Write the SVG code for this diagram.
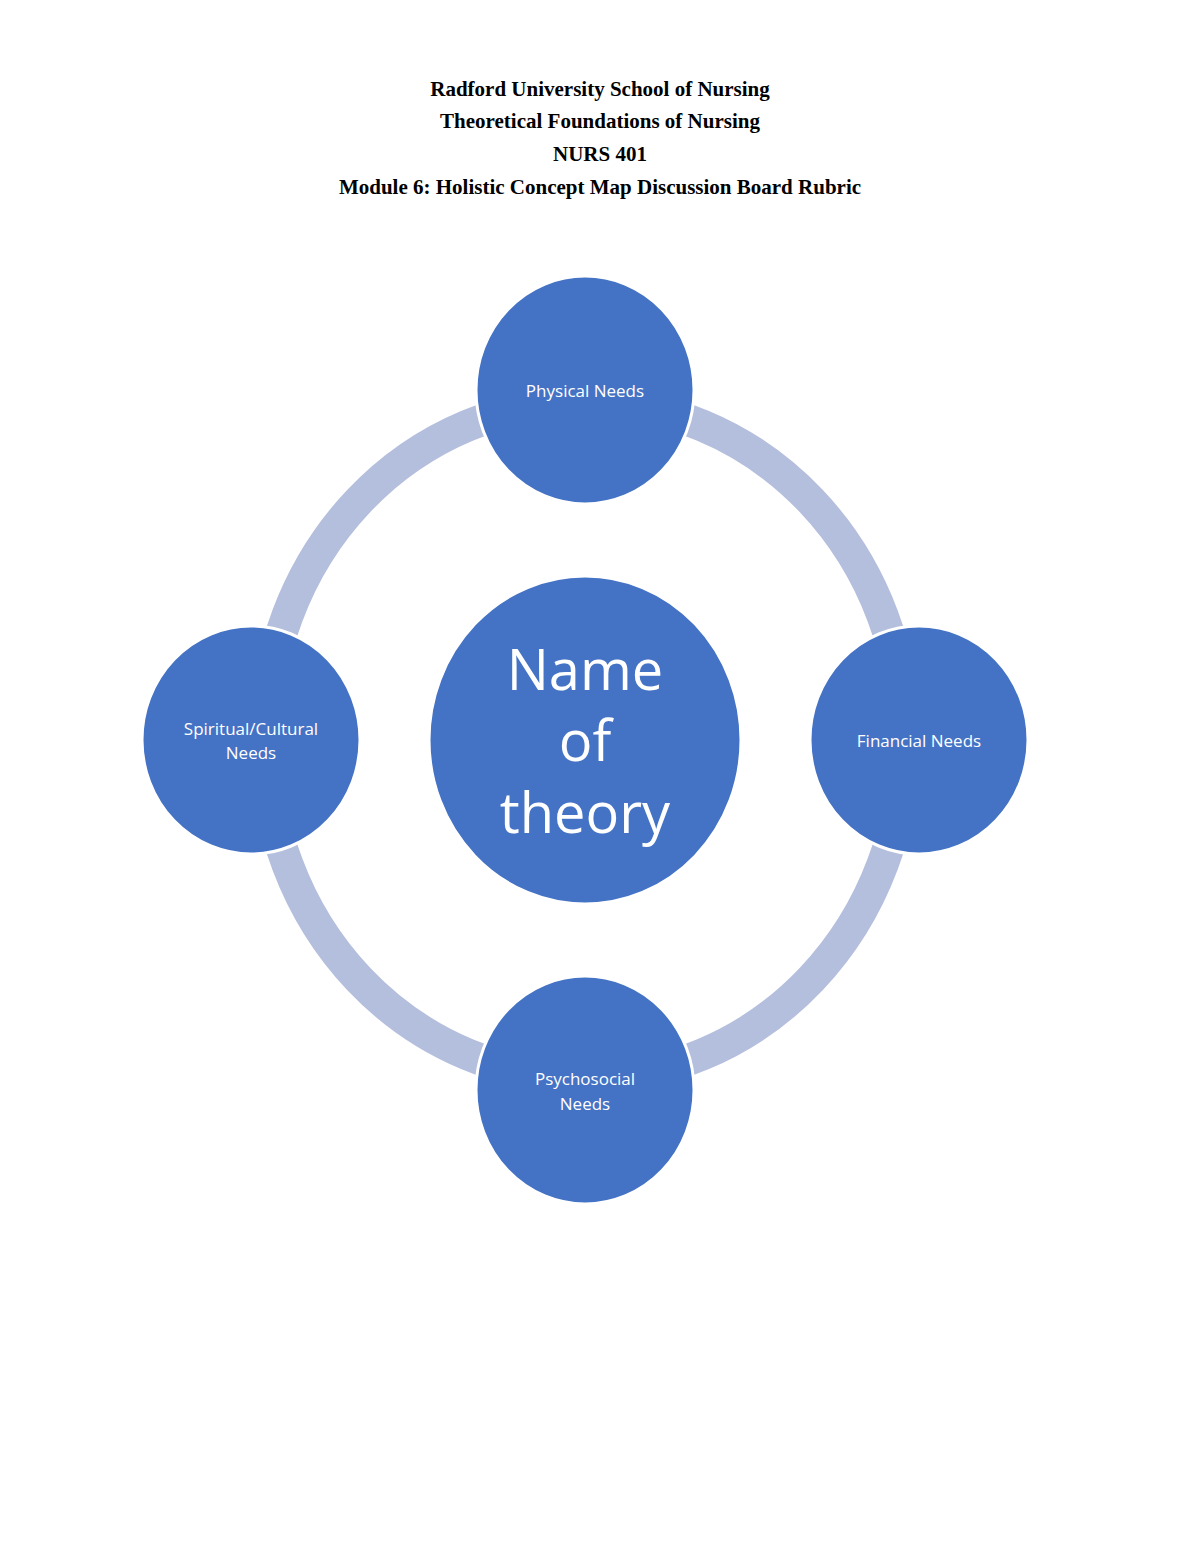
<svg xmlns="http://www.w3.org/2000/svg" width="1200" height="1553" viewBox="0 0 1200 1553">
<style>
.t{font-family:"Liberation Serif",serif;font-weight:bold;font-size:21px;fill:#000;text-anchor:middle}
.n{fill:#4472c4;stroke:#fff;stroke-width:3}
.l{font-family:"Open Sans","DejaVu Sans",sans-serif;font-size:17px;fill:#fff;text-anchor:middle}
.c{font-family:"Open Sans","DejaVu Sans",sans-serif;font-size:56px;fill:#fff;text-anchor:middle}
</style>
<rect width="1200" height="1553" fill="#fff"/>
<text class="t" x="600" y="96">Radford University School of Nursing</text>
<text class="t" x="600" y="128">Theoretical Foundations of Nursing</text>
<text class="t" x="600" y="161">NURS 401</text>
<text class="t" x="600" y="194">Module 6: Holistic Concept Map Discussion Board Rubric</text>
<g id="connectors"><ellipse cx="585" cy="740" rx="320" ry="338" fill="none" stroke="#b4bedd" stroke-width="32"/></g>
<g id="center"><ellipse class="n" cx="585" cy="740" rx="156" ry="164"/>
<text class="c" x="585" y="690">Name</text><text class="c" x="585" y="761">of</text><text class="c" x="585" y="833">theory</text></g>
<g id="physical"><ellipse class="n" cx="585" cy="390" rx="109" ry="114"/><text class="l" x="585" y="397">Physical Needs</text></g>
<g id="financial"><ellipse class="n" cx="919" cy="740" rx="109" ry="114"/><text class="l" x="919" y="747">Financial Needs</text></g>
<g id="psychosocial"><ellipse class="n" cx="585" cy="1090" rx="109" ry="114"/><text class="l" x="585" y="1085">Psychosocial</text><text class="l" x="585" y="1110">Needs</text></g>
<g id="spiritual"><ellipse class="n" cx="251" cy="740" rx="109" ry="114"/><text class="l" x="251" y="735">Spiritual/Cultural</text><text class="l" x="251" y="759">Needs</text></g>
</svg>
